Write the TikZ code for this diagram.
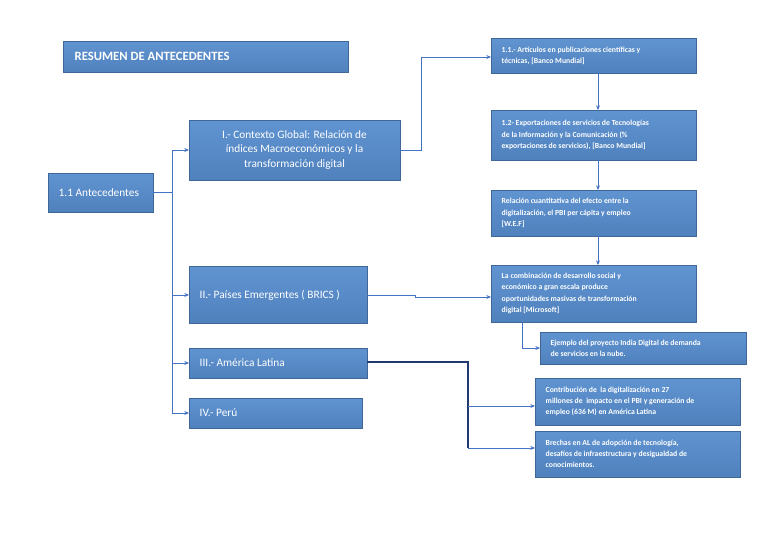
\documentclass[tikz,border=0pt]{standalone}
\usepackage{fontspec}
\setmainfont{Carlito}
\usetikzlibrary{arrows.meta,shadows}
\definecolor{bx}{RGB}{79,129,189}
\definecolor{bxl}{RGB}{96,148,208}
\definecolor{ln}{RGB}{68,114,196}
\definecolor{dk}{RGB}{31,56,110}
\begin{document}
\begin{tikzpicture}[x=0.75pt,y=-0.75pt,
  box/.style={draw=bx!80!black,line width=0.4pt,top color=bxl,bottom color=bx,text=white,inner sep=0pt,drop shadow={opacity=0.3,shadow xshift=1pt,shadow yshift=-1pt}},
  con/.style={draw=ln,line width=0.6pt,-{Stealth[length=3.5pt,width=3pt]}},
  lin/.style={draw=ln,line width=0.6pt}]
\useasboundingbox (0,0) rectangle (768,543);
\newcommand{\bx}[6]{\path[box] (#2,#3) rectangle (#4,#5);
  \node[anchor=west,text=white,align=left,font=#6] (#1) at (#2+5,{(#3+#5)/2}) {};}
\path[box] (63,41) rectangle (348,72);
\node[anchor=west,text=white,font=\bfseries\fontsize{9.5}{11}\selectfont] (res) at (70,56.5) {RESUMEN DE ANTECEDENTES};
\path[box] (48,173) rectangle (153,212);
\node[anchor=west,text=white,font=\fontsize{8.5}{10}\selectfont] (ant) at (54,192.5) {1.1 Antecedentes};
\path[box] (189,120) rectangle (400,180);
\node[text=white,align=center,font=\fontsize{8.5}{11}\selectfont] (c1) at (294.5,150) {I.- Contexto Global: Relación de\\índices Macroeconómicos y la\\transformación digital};
\path[box] (189,266) rectangle (367,323);
\node[anchor=west,text=white,font=\fontsize{8.5}{10}\selectfont] (c2) at (195,295) {II.- Países Emergentes ( BRICS )};
\path[box] (189,348) rectangle (367,378);
\node[anchor=west,text=white,font=\fontsize{8.5}{10}\selectfont] (c3) at (195,363) {III.- América Latina};
\path[box] (189,398) rectangle (362,428);
\node[anchor=west,text=white,font=\fontsize{8.5}{10}\selectfont] (c4) at (195,413) {IV.- Perú};
\tikzset{sm/.style={anchor=west,text=white,align=left,font=\bfseries\fontsize{5.8}{8.4}\selectfont}}
\path[box] (491,38) rectangle (696,73);
\node[sm] (a1) at (497,55.5) {1.1.- Artículos en publicaciones científicas y\\técnicas, [Banco Mundial]};
\path[box] (491,110) rectangle (696,160);
\node[sm] (a2) at (497,135) {1.2- Exportaciones de servicios de Tecnologías\\de la Información y la Comunicación (\%\\exportaciones de servicios), [Banco Mundial]};
\path[box] (491,190) rectangle (696,236);
\node[sm] (a3) at (497,213) {Relación cuantitativa del efecto entre la\\digitalización, el PBI per cápita y empleo\\{[W.E.F]}};
\path[box] (491,265) rectangle (696,322);
\node[sm] (a4) at (497,293.5) {La combinación de desarrollo social y\\económico a gran escala produce\\oportunidades masivas de transformación\\digital [Microsoft]};
\path[box] (540,332) rectangle (746,364);
\node[sm] (a5) at (546,348) {Ejemplo del proyecto India Digital de demanda\\de servicios en la nube.};
\path[box] (535,378) rectangle (740,425);
\node[sm] (b1) at (541,401.5) {Contribución de \ la digitalización en 27\\millones de \ impacto en el PBI y generación de\\empleo (636 M) en América Latina};
\path[box] (535,431) rectangle (740,477);
\node[sm] (b2) at (541,454) {Brechas en AL de adopción de tecnología,\\desafíos de infraestructura y desigualdad de\\conocimientos.};
% connectors
\coordinate (j) at (172,192.5);
\draw[lin] (153,192.5) -- (j);
\draw[lin] (172,150) -- (172,413);
\draw[con] (172,150) -- (189,150);
\draw[con] (172,295) -- (189,295);
\draw[con] (172,363) -- (189,363);
\draw[con] (172,413) -- (189,413);
\draw[con] (400,150) -- (421,150) -- (421,57) -- (491,57);
\draw[con] (598,73) -- (598,110);
\draw[con] (598,160) -- (598,190);
\draw[con] (598,236) -- (598,265);
\draw[con] (367,295) -- (415,295) -- (415,297) -- (491,297);
\draw[con] (522,322) -- (522,348) -- (540,348);
\draw[draw=dk,line width=0.9pt] (367,362) -- (468,362) -- (468,448);
\draw[con] (468,406) -- (535,406);
\draw[con] (468,448) -- (535,448);
\end{tikzpicture}
\end{document}
